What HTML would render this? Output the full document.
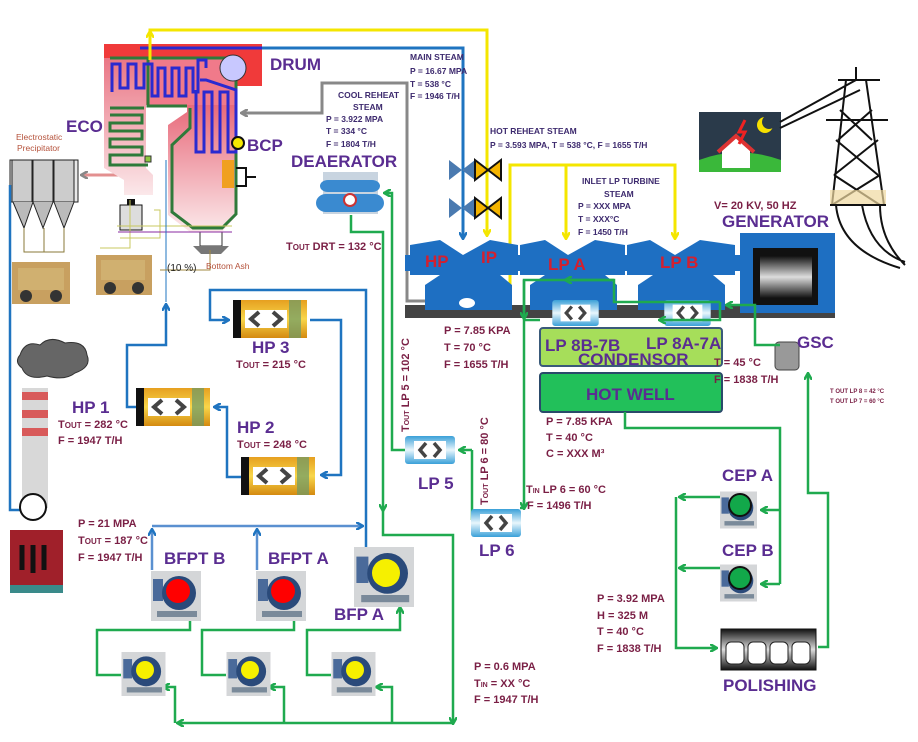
<!DOCTYPE html>
<html><head><meta charset="utf-8"><style>
html,body{margin:0;padding:0;background:#fff;width:918px;height:742px;overflow:hidden}
svg{display:block}
text{font-family:"Liberation Sans",sans-serif;font-weight:bold}
.h{fill:#5a2d91;font-size:17px}
.m{fill:#7a1f45;font-size:11px}
.s{fill:#3d2a6e;font-size:8.5px}
.r{fill:#d3202f;font-size:17px}
</style></head><body>
<svg width="918" height="742" viewBox="0 0 918 742" xmlns="http://www.w3.org/2000/svg">
<defs>
<marker id="ag" markerWidth="8" markerHeight="8" refX="6" refY="4" orient="auto" markerUnits="userSpaceOnUse"><path d="M0,0 L7,4 L0,8" fill="none" stroke="#1faa4f" stroke-width="2.5"/></marker>
<marker id="ab" markerWidth="8" markerHeight="8" refX="6" refY="4" orient="auto" markerUnits="userSpaceOnUse"><path d="M0,0 L7,4 L0,8" fill="none" stroke="#1f74c0" stroke-width="2.5"/></marker>
<marker id="ay" markerWidth="8" markerHeight="8" refX="6" refY="4" orient="auto" markerUnits="userSpaceOnUse"><path d="M0,0 L7,4 L0,8" fill="none" stroke="#f4e600" stroke-width="2.5"/></marker>
<marker id="aG" markerWidth="8" markerHeight="8" refX="6" refY="4" orient="auto" markerUnits="userSpaceOnUse"><path d="M0,0 L7,4 L0,8" fill="none" stroke="#888" stroke-width="2.5"/></marker>
<linearGradient id="pk" x1="0" y1="0" x2="0" y2="1"><stop offset="0" stop-color="#e86a7a"/><stop offset="1" stop-color="#fbe8ea"/></linearGradient>
<linearGradient id="hx" x1="0" y1="0" x2="0" y2="1"><stop offset="0" stop-color="#e6a020"/><stop offset=".5" stop-color="#f8d64a"/><stop offset="1" stop-color="#d48a10"/></linearGradient>
<linearGradient id="lx" x1="0" y1="0" x2="0" y2="1"><stop offset="0" stop-color="#3aa0d8"/><stop offset=".5" stop-color="#e8f6fc"/><stop offset="1" stop-color="#3aa0d8"/></linearGradient>
<linearGradient id="gn" x1="0" y1="0" x2="0" y2="1"><stop offset="0" stop-color="#111"/><stop offset=".5" stop-color="#ddd"/><stop offset="1" stop-color="#111"/></linearGradient>
<symbol id="hp" viewBox="0 0 74 38"><rect width="74" height="38" fill="url(#hx)"/><rect width="8" height="38" fill="#111"/><rect x="56" width="12" height="38" fill="#6a9a6a" opacity=".7"/><rect x="12" y="10" width="42" height="18" fill="#fff"/><path d="M26,12 l-8,7 8,7 M40,12 l8,7 -8,7" stroke="#444" stroke-width="4" fill="none"/></symbol>
<symbol id="lp" viewBox="0 0 50 28"><rect width="50" height="28" rx="3" fill="url(#lx)"/><rect x="9" y="5" width="32" height="18" fill="#fff"/><path d="M21,7 l-6,7 6,7 M29,7 l6,7 -6,7" stroke="#444" stroke-width="3.5" fill="none"/></symbol>
<symbol id="pm" viewBox="0 0 50 50"><rect width="50" height="50" fill="#d4d6d8"/><rect x="2" y="8" width="10" height="22" fill="#4a6a9a"/><circle cx="28" cy="22" r="17" fill="#2a4a7a"/><rect x="6" y="40" width="40" height="6" fill="#7a8a9a"/></symbol>
</defs>

<!-- ESP -->
<rect x="10" y="160" width="68" height="42" fill="#e8e8e8" stroke="#222"/>
<rect x="12" y="160" width="20" height="42" fill="#ccc" stroke="#222"/><rect x="33" y="160" width="20" height="42" fill="#ccc" stroke="#222"/><rect x="54" y="160" width="20" height="42" fill="#ccc" stroke="#222"/>
<path d="M13,202 L24,228 L33,202 M33,202 L43,228 L53,202 M54,202 L64,228 L74,202" fill="#bbb" stroke="#222"/>
<path d="M24,228v24h40v-24 M44,228v24" stroke="#8a7a3a" fill="none"/>
<path d="M150,175 L82,175" stroke="#e39090" stroke-width="3" marker-end="url(#aG)"/>
<rect x="12" y="262" width="58" height="42" fill="#c8a060"/><rect x="18" y="268" width="46" height="22" fill="#d0b070"/><circle cx="26" cy="296" r="6" fill="#333"/><circle cx="56" cy="296" r="6" fill="#333"/>
<rect x="96" y="255" width="56" height="40" fill="#c8a060"/><rect x="101" y="260" width="44" height="20" fill="#d0b070"/><circle cx="110" cy="288" r="6" fill="#333"/><circle cx="138" cy="288" r="6" fill="#333"/>

<!-- Boiler -->
<path d="M104,44 H146 V168 L153,175 V195 H124 V180 L104,168 Z" fill="url(#pk)"/>
<path d="M146,44 H237 V105 H146Z" fill="#f07a8a"/>
<path d="M187,105 H237 V215 L222,232 H190 L168,215 V125 L187,112Z" fill="url(#pk)"/>
<path d="M104,44 H262 V86 H237 V44 Z" fill="#f03a3a"/>
<path d="M104,44 H237 V58 H104Z" fill="#f03a3a"/>
<path d="M200,232 v14 h22 v-14" fill="#fff" stroke="#333"/><path d="M193,246 h36 l-8,8 h-20z" fill="#777"/>
<g fill="none" stroke="#2f7a3a" stroke-width="3">
<path d="M110,58 H232"/>
<path d="M110,108 H144 M110,115 h32 v8 h-32 v8 h32 v8 h-32 v8 h32 v8 h-32 v10 H148"/>
<path d="M148,58 V106 H187"/>
<path d="M190,108 V128 L172,145 V212 L193,228 H222 L236,214 V76"/>
</g>
<path d="M112,92 V64 h8 v24 h8 v-24 h8 v24 h8 v-24 h8 v32 h6 v-28 h7 v28 h7 v-28 h7 v28 h7 v-28 h7 v24 h5 V60 h8 v8" fill="none" stroke="#2a2ad0" stroke-width="3"/>
<path d="M196,90 V152 h8 v-60 h8 v60 h8 v-60 h8 v60 h8 v-62 L206,80 H200" fill="none" stroke="#2a2ad0" stroke-width="3"/>
<path d="M140,48 H262" stroke="#2a2ad0" stroke-width="3"/>
<circle cx="233" cy="68" r="13" fill="#c8c8ff" stroke="#333"/>
<circle cx="238" cy="143" r="6" fill="#f6e800" stroke="#111" stroke-width="2"/>
<rect x="222" y="160" width="12" height="28" fill="#f0a020"/>
<path d="M236,168 h10 v18 h-10 M246,177 h10" stroke="#111" stroke-width="2" fill="none"/>
<rect x="145" y="156" width="6" height="6" fill="#8dc63f" stroke="#333"/>
<rect x="120" y="205" width="22" height="25" fill="#ddd" stroke="#111"/><rect x="127" y="199" width="8" height="6" fill="#111"/>
<path d="M154,210 H160 V238 H120 M117,226 H232 M100,248 H130 V200" stroke="#c8c860" fill="none"/>
<path d="M118,232 H232" stroke="#8a2aa0" fill="none"/>
<path d="M166,160 V302" stroke="#1f74c0" stroke-width="1"/>
<path d="M160,270 H210 V250" stroke="#a08a40" fill="none"/>

<!-- Yellow main -->
<path d="M150,60 V30 H487 V235" stroke="#f4e600" stroke-width="3" fill="none" marker-end="url(#ay)"/>
<path d="M150,56 V32" stroke="#f4e600" stroke-width="3" marker-end="url(#ay)"/>
<!-- Blue main steam -->
<path d="M262,48 H463 V238" stroke="#1f74c0" stroke-width="3" fill="none" marker-end="url(#ab)"/>
<!-- gray cool reheat -->
<path d="M435,301 H407 V83 H322 V113 H242" stroke="#888" stroke-width="3" fill="none" marker-end="url(#aG)"/>
<!-- valves -->
<g><path d="M449,160 L475,180 L475,160 L449,180Z" fill="#4a7ab0"/><path d="M475,160 L501,180 L501,160 L475,180Z" fill="#f4b400" stroke="#111" stroke-width="2"/>
<path d="M449,198 L475,218 L475,198 L449,218Z" fill="#4a7ab0"/><path d="M475,198 L501,218 L501,198 L475,218Z" fill="#f4b400" stroke="#111" stroke-width="2"/></g>
<!-- yellow hot reheat to LP -->
<path d="M487,277 V298 H510 V165 H675 V236 M566,165 V236" stroke="#f4e600" stroke-width="3" fill="none"/>
<path d="M566,220 V238" stroke="#f4e600" stroke-width="3" marker-end="url(#ay)"/><path d="M675,220 V238" stroke="#f4e600" stroke-width="3" marker-end="url(#ay)"/>

<!-- turbines -->
<rect x="405" y="305" width="430" height="13" fill="#444"/>
<g fill="#1e6fc2">
<path d="M410,245 L440,240 L463,255 L490,240 L518,245 V275 H410Z"/>
<path d="M520,245 L545,240 L568,255 L595,240 L625,245 V275 H520Z"/>
<path d="M627,245 L650,240 L675,255 L700,240 L735,245 V275 H627Z"/>
<rect x="405" y="255" width="340" height="16"/>
<path d="M425,285 L440,275 H500 L512,285 V310 H425Z"/><path d="M530,285 L545,275 H605 L617,285 V310 H530Z"/><path d="M638,285 L653,275 H713 L725,285 V310 H638Z"/>
<rect x="740" y="233" width="95" height="80"/></g>
<rect x="753" y="248" width="65" height="57" fill="#111"/><rect x="760" y="256" width="52" height="42" fill="url(#gn)"/>
<ellipse cx="467" cy="303" rx="8" ry="5" fill="#fff"/>
<text x="425" y="267" class="r" font-size="15">HP</text><text x="481" y="263" class="r" font-size="15">IP</text>
<text x="548" y="270" class="r" font-size="15">LP A</text><text x="660" y="268" class="r" font-size="15">LP B</text>

<!-- condenser -->
<rect x="540" y="328" width="182" height="38" rx="3" fill="#a6de5a" stroke="#3a5a7a" stroke-width="2"/>
<rect x="540" y="373" width="182" height="39" rx="3" fill="#22c05a" stroke="#2a4a6a" stroke-width="2"/>
<use href="#lp" x="551" y="300" width="49" height="26"/><use href="#lp" x="663" y="300" width="49" height="26"/>
<text x="545" y="351" class="h" font-size="16">LP 8B-7B</text><text x="646" y="349" class="h" font-size="16">LP 8A-7A</text>
<text x="578" y="365" class="h" font-size="13">CONDENSOR</text>
<text x="586" y="400" class="h" font-size="17">HOT WELL</text>
<!-- GSC -->
<rect x="775" y="342" width="24" height="28" rx="4" fill="#999" stroke="#444"/>

<!-- green condensate lines -->
<g stroke="#1faa4f" stroke-width="2.5" fill="none">
<path d="M524,505 V280 H614 V302 H720" /><path d="M614,280 H566" marker-end="url(#ag)"/>
<path d="M524,280 V318" marker-end="url(#ag)"/>
<path d="M780,345 H755 V305 H727" marker-end="url(#ag)"/>
<path d="M720,302 V320 H660" marker-end="url(#ag)"/>
<path d="M540,320 H524"/>
<path d="M625,412 V428 H780 V584"/>
<path d="M780,510 H762" marker-end="url(#ag)"/><path d="M780,584 H762" marker-end="url(#ag)"/>
<path d="M720,497 H680" marker-end="url(#ag)"/><path d="M720,568 H680" marker-end="url(#ag)"/>
<path d="M676,497 V648 H716" marker-end="url(#ag)"/>
<path d="M818,647 H828 V493 H808 V374" marker-end="url(#ag)"/>
<path d="M524,505 V508 H520"/>
<path d="M471,520 H472 V470" /><path d="M472,450 H460" marker-end="url(#ag)"/><path d="M472,470 V450"/>
<path d="M524,500 V508" marker-end="url(#ag)"/>
<path d="M405,450 H392 V193 H385" marker-end="url(#ag)"/>
<path d="M351,215 V232 H383 V510" marker-end="url(#ag)"/>
<path d="M383,510 V535 H453 V723" marker-end="url(#ag)"/>
<path d="M453,723 H178" marker-end="url(#ag)"/>
<path d="M175,723 V687 H164" marker-end="url(#ag)"/>
<path d="M284,723 V687 H270" marker-end="url(#ag)"/>
<path d="M392,723 V687 H377" marker-end="url(#ag)"/>
<path d="M121,675 H97 V630 H190 V600" marker-end="url(#ag)"/>
<path d="M226,675 H202 V630 H294 V600" marker-end="url(#ag)"/>
<path d="M331,675 H307 V630 H400 V608" marker-end="url(#ag)"/>
</g>

<!-- blue feedwater -->
<g stroke="#1f74c0" stroke-width="2.5" fill="none">
<path d="M366,547 V290 H210 V320 H228" marker-end="url(#ab)"/>
<path d="M310,320 H341 V475 H322" marker-end="url(#ab)"/>
<path d="M241,477 H227 V407 H215" marker-end="url(#ab)"/>
<path d="M136,407 H127 V345 H166 V305" marker-end="url(#ab)"/>
<path d="M10,185 V510 H28" marker-end="url(#ab)"/>
</g>
<g stroke="#5a90d0" stroke-width="2.5" fill="none">
<path d="M152,570 V530" marker-end="url(#ab)"/><path d="M152,526 H362" marker-end="url(#ab)"/>
<path d="M257,570 V530" marker-end="url(#ab)"/>
</g>

<!-- heaters -->
<use href="#hp" x="233" y="300" width="74" height="38"/>
<use href="#hp" x="136" y="388" width="74" height="38"/>
<use href="#hp" x="241" y="457" width="74" height="38"/>
<use href="#lp" x="405" y="436" width="50" height="28"/>
<use href="#lp" x="471" y="509" width="50" height="28"/>

<!-- deaerator -->
<rect x="323" y="172" width="55" height="42" fill="#c8d4e0"/>
<path d="M328,180 h44 a8,6 0 0 1 0,12 h-44 a8,6 0 0 1 0,-12z M326,194 h48 a10,9 0 0 1 0,18 h-48 a10,9 0 0 1 0,-18z" fill="#3a8ad0"/>
<circle cx="350" cy="200" r="6" fill="#fff" stroke="#c33" stroke-width="2"/>

<!-- pumps -->
<use href="#pm" x="151" y="570" width="50" height="52"/><circle cx="178" cy="591" r="12" fill="#f00"/>
<use href="#pm" x="256" y="570" width="50" height="52"/><circle cx="283" cy="591" r="12" fill="#f00"/>
<use href="#pm" x="354" y="547" width="60" height="60"/><circle cx="386" cy="573" r="14" fill="#f6f000"/>
<use href="#pm" x="121" y="652" width="45" height="44"/><circle cx="145" cy="670" r="9" fill="#f6f000"/>
<use href="#pm" x="226" y="652" width="45" height="44"/><circle cx="250" cy="670" r="9" fill="#f6f000"/>
<use href="#pm" x="331" y="652" width="45" height="44"/><circle cx="355" cy="670" r="9" fill="#f6f000"/>
<use href="#pm" x="720" y="490" width="37" height="40"/><circle cx="740" cy="505" r="11" fill="#12a84a" stroke="#111" stroke-width="2"/>
<use href="#pm" x="720" y="562" width="37" height="42"/><circle cx="740" cy="578" r="11" fill="#12a84a" stroke="#111" stroke-width="2"/>
<!-- polishing -->
<rect x="721" y="629" width="95" height="41" fill="url(#gn)" stroke="#111"/>
<g fill="#fff" stroke="#222"><rect x="726" y="642" width="18" height="22" rx="5"/><rect x="748" y="642" width="18" height="22" rx="5"/><rect x="770" y="642" width="18" height="22" rx="5"/><rect x="792" y="642" width="18" height="22" rx="5"/></g>

<!-- chimney, cloud, furnace -->
<path d="M20,355 q5,-15 20,-10 q10,-10 25,-2 q20,-3 22,12 q5,12 -12,18 q-10,8 -28,3 q-20,5 -25,-8 q-8,-6 -2,-13z" fill="#666" stroke="#333"/>
<rect x="22" y="388" width="26" height="120" fill="#d8d8d8"/>
<rect x="22" y="392" width="26" height="8" fill="#d85a5a"/><rect x="22" y="410" width="26" height="8" fill="#d85a5a"/><rect x="22" y="428" width="26" height="8" fill="#d85a5a"/>
<circle cx="33" cy="507" r="13" fill="#fff" stroke="#111" stroke-width="2"/>
<rect x="10" y="530" width="53" height="55" fill="#a0202a"/><rect x="10" y="585" width="53" height="8" fill="#3a8a8a"/>
<path d="M22,545 v25 M33,545 v28 M44,545 v25" stroke="#111" stroke-width="5"/>

<!-- house & tower -->
<rect x="699" y="112" width="82" height="60" fill="#2a3a4a"/><path d="M699,160 q40,-15 82,0 v12 h-82z" fill="#3ab83a"/>
<path d="M722,150 l14,-12 14,12 v18 h-28z" fill="#fff"/><path d="M718,152 l18,-16 18,16" stroke="#d33" stroke-width="4" fill="none"/>
<path d="M745,120 l-6,12 h6 l-6,12" stroke="#e22" stroke-width="3" fill="none"/>
<circle cx="765" cy="125" r="8" fill="#f6e000"/><circle cx="769" cy="122" r="7" fill="#2a3a4a"/>
<g stroke="#111" stroke-width="2" fill="none">
<path d="M780,122 L856,80 M780,128 L860,90 M856,67 V80 M838,80 H880 M846,80 L832,205 M866,80 L884,205 M830,205 H886 M840,110 L872,140 M872,110 L838,140 M836,140 L878,175 M878,140 L834,175 M834,175 L880,205 M880,175 L832,205 M826,120 H888 M836,205 Q840,250 900,268 M862,205 Q870,250 905,262 M880,205 Q880,240 905,265"/>
</g>
<rect x="830" y="190" width="56" height="14" fill="#f0d8a0" opacity=".7"/>

<!-- labels -->
<text x="270" y="70" class="h" font-size="18">DRUM</text>
<text x="66" y="132" class="h" font-size="18">ECO</text>
<text x="16" y="140" style="fill:#b5523b;font-size:8.5px;font-weight:normal">Electrostatic</text>
<text x="17" y="151" style="fill:#b5523b;font-size:8.5px;font-weight:normal">Precipitator</text>
<text x="247" y="151" class="h">BCP</text>
<text x="291" y="167" class="h">DEAERATOR</text>
<text x="338" y="98" class="s">COOL REHEAT</text><text x="353" y="110" class="s">STEAM</text>
<text x="326" y="122" class="s">P = 3.922 MPA</text><text x="326" y="134" class="s">T = 334 °C</text><text x="326" y="147" class="s">F = 1804 T/H</text>
<text x="410" y="60" class="s">MAIN STEAM</text><text x="410" y="74" class="s">P = 16.67 MPA</text><text x="410" y="87" class="s">T = 538 °C</text><text x="410" y="99" class="s">F = 1946 T/H</text>
<text x="490" y="134" class="s">HOT REHEAT STEAM</text><text x="490" y="148" class="s">P = 3.593 MPA, T = 538 °C, F = 1655 T/H</text>
<text x="582" y="184" class="s">INLET LP TURBINE</text><text x="604" y="197" class="s">STEAM</text>
<text x="578" y="209" class="s">P = XXX MPA</text><text x="578" y="222" class="s">T = XXX°C</text><text x="578" y="235" class="s">F = 1450 T/H</text>
<text x="714" y="209" class="m" font-size="12">V= 20 KV, 50 HZ</text>
<text x="722" y="227" class="h" font-size="18">GENERATOR</text>
<text x="286" y="250" class="m" font-size="12">T<tspan font-size="8">OUT</tspan> DRT = 132 °C</text>
<text x="167" y="271" style="font-size:10px;font-weight:normal;fill:#222">(10 %)</text>
<text x="206" y="269" style="fill:#b5523b;font-size:8.5px;font-weight:normal">Bottom Ash</text>
<text x="444" y="334" class="m" font-size="12">P = 7.85 KPA</text><text x="444" y="351" class="m" font-size="12">T = 70 °C</text><text x="444" y="368" class="m" font-size="12">F = 1655 T/H</text>
<text x="797" y="348" class="h">GSC</text>
<text x="714" y="366" class="m" font-size="12">T = 45 °C</text><text x="714" y="383" class="m" font-size="12">F = 1838 T/H</text>
<text x="830" y="393" style="fill:#7a1f45;font-size:6px">T OUT LP 8 = 42 °C</text>
<text x="830" y="403" style="fill:#7a1f45;font-size:6px">T OUT LP 7 = 60 °C</text>
<text x="546" y="425" class="m" font-size="12">P = 7.85 KPA</text><text x="546" y="441" class="m" font-size="12">T = 40 °C</text><text x="546" y="457" class="m" font-size="12">C = XXX M³</text>
<text x="252" y="353" class="h" font-size="16">HP 3</text><text x="236" y="368" class="m" font-size="12">T<tspan font-size="8">OUT</tspan> = 215 °C</text>
<text x="72" y="413" class="h" font-size="16">HP 1</text><text x="58" y="428" class="m" font-size="12">T<tspan font-size="8">OUT</tspan> = 282 °C</text><text x="58" y="444" class="m" font-size="12">F = 1947 T/H</text>
<text x="237" y="433" class="h" font-size="16">HP 2</text><text x="237" y="448" class="m" font-size="12">T<tspan font-size="8">OUT</tspan> = 248 °C</text>
<text x="78" y="527" class="m" font-size="12">P = 21 MPA</text><text x="78" y="544" class="m" font-size="12">T<tspan font-size="8">OUT</tspan> = 187 °C</text><text x="78" y="561" class="m" font-size="12">F = 1947 T/H</text>
<text x="164" y="564" class="h" font-size="16">BFPT B</text><text x="268" y="564" class="h" font-size="16">BFPT A</text>
<text x="334" y="620" class="h" font-size="14">BFP A</text>
<text x="418" y="489" class="h" font-size="15">LP 5</text><text x="479" y="556" class="h" font-size="15">LP 6</text>
<text transform="translate(409,432) rotate(-90)" class="m" font-size="11">T<tspan font-size="7">OUT</tspan> LP 5 = 102 °C</text>
<text transform="translate(488,505) rotate(-90)" class="m" font-size="11">T<tspan font-size="7">OUT</tspan> LP 6 = 80 °C</text>
<text x="526" y="493" class="m">T<tspan font-size="7">IN</tspan> LP 6 = 60 °C</text><text x="527" y="509" class="m">F = 1496 T/H</text>
<text x="722" y="481" class="h" font-size="16">CEP A</text><text x="722" y="556" class="h" font-size="16">CEP B</text>
<text x="597" y="602" class="m">P = 3.92 MPA</text><text x="597" y="619" class="m">H = 325 M</text><text x="597" y="635" class="m">T = 40 °C</text><text x="597" y="652" class="m">F = 1838 T/H</text>
<text x="723" y="691" class="h" font-size="16">POLISHING</text>
<text x="474" y="670" class="m">P = 0.6 MPA</text><text x="474" y="687" class="m">T<tspan font-size="7">IN</tspan> = XX °C</text><text x="474" y="703" class="m">F = 1947 T/H</text>
</svg>
</body></html>
